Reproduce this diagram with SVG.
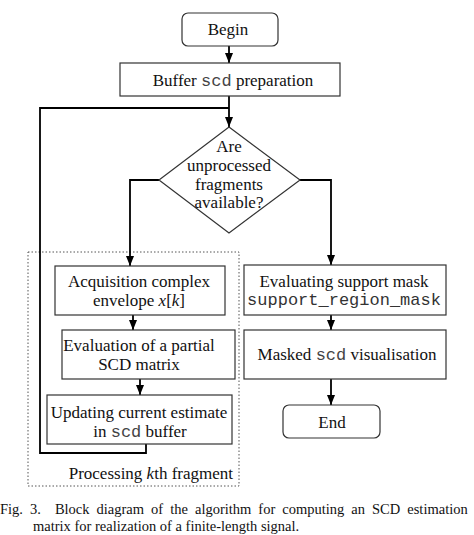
<svg xmlns="http://www.w3.org/2000/svg" width="474" height="535" viewBox="0 0 474 535">
<style>
text{font-family:'Liberation Serif','Times New Roman',Times,serif}
.bx{fill:#fff;stroke:#333;stroke-width:1.2}
.t{font-size:17px;fill:#111;text-anchor:middle}
.m{font-family:'Liberation Mono','Courier New',monospace;fill:#444}
.c{fill:none;stroke:#000;stroke-width:1.8}
.cap{font-size:14.5px;fill:#111}
</style>
<defs>
<marker id="ah" viewBox="0 0 10 8" refX="10" refY="4" markerWidth="10" markerHeight="8" markerUnits="userSpaceOnUse" orient="auto">
<path d="M0,0 L10,4 L0,8 z" fill="#000"/>
</marker>
</defs>
<rect x="0" y="0" width="474" height="535" fill="#fff"/>
<rect id="group-frame" x="28" y="252" width="211" height="234" fill="none" stroke="#555" stroke-width="1" stroke-dasharray="1.5,2"/>
<g id="connectors">
<path class="c" d="M229,46 V63" marker-end="url(#ah)"/>
<path class="c" d="M229,96 V127" marker-end="url(#ah)"/>
<path class="c" d="M146,444 V453 H40 V108 H229"/>
<path class="c" d="M159,180 H130 V266" marker-end="url(#ah)"/>
<path class="c" d="M300,180 H331 V265" marker-end="url(#ah)"/>
<path class="c" d="M133,315 V330" marker-end="url(#ah)"/>
<path class="c" d="M140,379 V395" marker-end="url(#ah)"/>
<path class="c" d="M331,315 V330" marker-end="url(#ah)"/>
<path class="c" d="M331,379 V405" marker-end="url(#ah)"/>
</g>
<g id="begin">
<rect class="bx" x="182" y="13" width="96" height="33" rx="6"/>
<text class="t" x="228" y="35">Begin</text>
</g>
<g id="buffer">
<rect class="bx" x="120" y="63" width="220" height="33"/>
<text class="t" x="233" y="86">Buffer <tspan class="m">scd</tspan> preparation</text>
</g>
<g id="decision">
<polygon class="bx" points="229,127 300,180 229,233 159,180"/>
<text class="t" x="229" y="152">Are</text>
<text class="t" x="229" y="171">unprocessed</text>
<text class="t" x="229" y="190">fragments</text>
<text class="t" x="229" y="208">available?</text>
</g>
<g id="acquisition">
<rect class="bx" x="55" y="266" width="170" height="49"/>
<text class="t" x="139" y="287">Acquisition complex</text>
<text class="t" x="139" y="306">envelope <tspan font-style="italic">x</tspan>[<tspan font-style="italic">k</tspan>]</text>
</g>
<g id="evaluation">
<rect class="bx" x="62" y="330" width="173" height="49"/>
<text class="t" x="139" y="351">Evaluation of a partial</text>
<text class="t" x="139" y="370">SCD matrix</text>
</g>
<g id="updating">
<rect class="bx" x="47" y="395" width="185" height="49"/>
<text class="t" x="139" y="418">Updating current estimate</text>
<text class="t" x="140" y="437">in <tspan class="m">scd</tspan> buffer</text>
</g>
<g id="processing-label">
<text class="t" x="233" y="479" style="text-anchor:end">Processing <tspan font-style="italic">k</tspan>th fragment</text>
</g>
<g id="support">
<rect class="bx" x="244" y="265" width="202" height="50"/>
<text class="t" x="344" y="287">Evaluating support mask</text>
<text class="t m" x="344" y="305" style="fill:#333">support_region_mask</text>
</g>
<g id="masked">
<rect class="bx" x="244" y="330" width="202" height="49"/>
<text class="t" x="347" y="360">Masked <tspan class="m">scd</tspan> visualisation</text>
</g>
<g id="end">
<rect class="bx" x="283" y="405" width="97" height="33" rx="6"/>
<text class="t" x="332" y="428">End</text>
</g>
<g id="caption">
<text class="cap" x="0" y="514" xml:space="preserve" style="word-spacing:3.4px">Fig. 3.  Block diagram of the algorithm for computing an SCD estimation</text>
<text class="cap" x="33" y="531">matrix for realization of a finite-length signal.</text>
</g>
</svg>
